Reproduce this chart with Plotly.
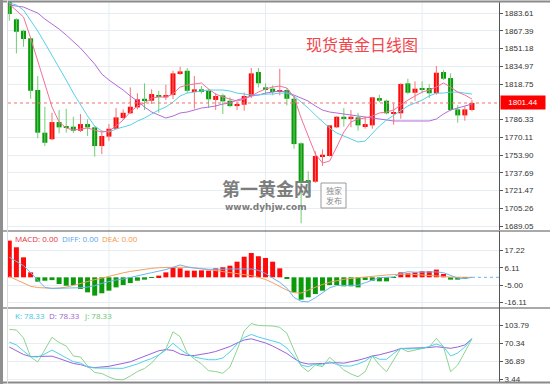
import plotly.graph_objects as go

# ---------------- data ----------------
IDX = list(range(66))
OPEN = [1895.0, 1877.9, 1867.4, 1860.5, 1813.3, 1774.3, 1768.3, 1784.0, 1780.4, 1779.8,
        1776.1, 1782.2, 1779.2, 1762.1, 1770.7, 1777.9, 1787.7, 1792.0, 1797.4, 1805.3,
        1803.5, 1808.7, 1806.6, 1808.7, 1828.5, 1830.9, 1812.1, 1813.9, 1812.6, 1804.2,
        1808.4, 1803.5, 1798.6, 1799.9, 1807.8, 1829.7, 1815.7, 1814.5, 1811.5, 1813.3,
        1805.3, 1764.6, 1731.0, 1729.5, 1752.4, 1753.0, 1779.2, 1788.9, 1787.1, 1788.3,
        1780.4, 1781.0, 1805.9, 1803.5, 1791.4, 1792.0, 1819.4, 1810.8, 1815.1, 1815.1,
        1810.3, 1829.7, 1824.2, 1795.6, 1790.1, 1795.0]
HIGH = [1898.0, 1878.8, 1868.2, 1861.2, 1826.1, 1798.0, 1792.5, 1795.0, 1796.2, 1788.9,
        1791.4, 1786.5, 1780.0, 1776.1, 1782.2, 1796.8, 1795.6, 1815.7, 1810.3, 1819.4,
        1813.9, 1812.6, 1818.1, 1830.9, 1834.6, 1833.4, 1826.1, 1816.9, 1814.5, 1810.3,
        1810.0, 1806.6, 1802.0, 1811.0, 1833.4, 1833.4, 1819.4, 1817.5, 1832.7, 1815.0,
        1807.0, 1765.5, 1739.0, 1757.3, 1759.0, 1781.0, 1789.5, 1796.8, 1795.0, 1792.5,
        1788.9, 1807.0, 1809.0, 1804.5, 1801.1, 1819.5, 1823.6, 1821.2, 1821.2, 1818.5,
        1835.2, 1831.5, 1828.5, 1799.3, 1798.5, 1804.2]
LOW = [1876.6, 1846.8, 1852.8, 1805.3, 1769.1, 1762.1, 1767.5, 1773.7, 1774.3, 1774.0,
       1774.9, 1771.3, 1752.4, 1754.8, 1767.0, 1777.5, 1785.9, 1791.5, 1795.6, 1795.0,
       1800.5, 1792.5, 1804.2, 1805.0, 1827.0, 1810.3, 1796.2, 1810.0, 1796.8, 1795.0,
       1791.4, 1797.5, 1795.0, 1794.4, 1806.0, 1815.7, 1809.0, 1808.5, 1808.4, 1799.3,
       1759.6, 1691.5, 1715.8, 1728.5, 1743.9, 1752.5, 1778.5, 1779.8, 1779.2, 1776.1,
       1778.0, 1777.9, 1802.0, 1791.0, 1781.6, 1787.1, 1809.5, 1803.5, 1810.3, 1806.0,
       1809.0, 1822.5, 1794.0, 1783.4, 1785.2, 1793.8]
CLOSE = [1882.7, 1866.5, 1859.9, 1812.6, 1774.3, 1765.1, 1784.0, 1779.2, 1779.2, 1776.1,
         1782.2, 1779.2, 1762.1, 1771.3, 1777.9, 1788.3, 1792.5, 1798.0, 1804.8, 1803.5,
         1809.6, 1807.2, 1808.7, 1828.5, 1830.3, 1812.6, 1813.9, 1811.5, 1804.8, 1807.8,
         1802.9, 1798.6, 1800.5, 1807.8, 1828.5, 1819.4, 1813.9, 1811.5, 1813.3, 1805.3,
         1763.9, 1730.1, 1728.6, 1753.0, 1754.2, 1781.0, 1788.9, 1787.1, 1788.9, 1781.0,
         1782.2, 1806.6, 1803.5, 1792.0, 1793.2, 1818.8, 1810.8, 1814.5, 1813.9, 1810.3,
         1829.1, 1823.6, 1795.0, 1790.1, 1795.6, 1801.44]

MA5 = [1891.8, 1886.3, 1880.0, 1860.8, 1839.8, 1817.8, 1797.8, 1784.1, 1778.6, 1776.7,
       1777.6, 1778.6, 1776.7, 1774.9, 1775.8, 1780.4, 1785.9, 1793.2, 1798.7, 1801.4,
       1806.0, 1806.9, 1806.9, 1809.6, 1816.0, 1817.8, 1818.8, 1819.7, 1814.2, 1809.6,
       1806.9, 1805.1, 1803.2, 1805.1, 1807.8, 1811.4, 1814.2, 1816.0, 1816.9, 1815.1,
       1806.9, 1787.7, 1771.3, 1754.8, 1746.6, 1748.4, 1761.2, 1774.9, 1784.1, 1786.8,
       1787.7, 1789.5, 1792.3, 1793.2, 1795.0, 1799.6, 1804.1, 1807.8, 1811.4, 1813.3,
       1816.0, 1819.7, 1816.0, 1811.4, 1808.7, 1805.1]
MA10 = [1892.7, 1890.9, 1886.3, 1877.2, 1867.2, 1856.2, 1845.2, 1834.3, 1822.4, 1810.5,
        1799.6, 1789.5, 1780.4, 1775.8, 1774.9, 1777.6, 1779.5, 1781.3, 1784.9, 1787.7,
        1791.4, 1795.0, 1797.8, 1802.3, 1807.8, 1810.5, 1811.4, 1812.4, 1813.3, 1813.3,
        1813.3, 1812.4, 1810.5, 1809.6, 1808.7, 1808.7, 1809.6, 1809.6, 1810.5, 1810.5,
        1807.8, 1802.3, 1796.8, 1790.4, 1784.9, 1778.6, 1774.0, 1771.3, 1768.5, 1765.8,
        1766.7, 1774.0, 1780.4, 1785.9, 1790.4, 1795.0, 1798.7, 1801.4, 1804.1, 1807.8,
        1810.5, 1810.5, 1811.4, 1811.4, 1810.5, 1809.6]
MA20 = [1890.9, 1890.0, 1889.1, 1886.3, 1883.6, 1878.1, 1873.6, 1869.0, 1863.5, 1858.0,
        1851.6, 1844.3, 1837.0, 1827.9, 1822.4, 1817.8, 1813.3, 1807.8, 1803.2, 1797.7,
        1793.2, 1790.4, 1787.7, 1789.5, 1792.3, 1793.2, 1795.0, 1796.8, 1797.7, 1798.7,
        1800.5, 1801.4, 1804.1, 1806.0, 1807.8, 1808.7, 1810.5, 1811.4, 1812.4, 1811.4,
        1808.7, 1806.0, 1803.2, 1798.7, 1795.0, 1793.2, 1792.3, 1791.4, 1790.4, 1789.5,
        1788.6, 1787.7, 1786.8, 1785.9, 1785.0, 1785.0, 1785.0, 1785.0, 1785.0, 1785.0,
        1786.8, 1791.4, 1795.0, 1796.8, 1798.7, 1800.5]

MACD = [23.7, 19.4, 12.9, 3.2, -2.8, -2.2, -1.8, -4.3, -5.4, -5.0,
        -7.5, -9.7, -11.8, -10.3, -8.6, -6.5, -5.0, -3.7, -2.2, -1.5,
        -0.4, 1.1, 3.2, 6.5, 5.8, 4.3, 4.3, 4.5, 4.3, 5.8,
        6.5, 7.5, 10.1, 13.3, 15.7, 13.6, 12.5, 10.1, 5.8, -1.1,
        -9.7, -14.4, -12.9, -10.8, -8.6, -5.0, -5.0, -5.8, -5.8, -6.5,
        -1.7, -2.2, -2.6, -2.6, -0.4, 3.2, 2.6, 3.2, 3.9, 3.9,
        5.0, 2.2, -1.5, -1.5, -0.6, 0.0]
DIFF = [13.0, 10.5, 7.5, 3.0, -2.0, -6.5, -7.2, -7.1, -7.1, -7.0,
        -6.7, -6.3, -5.4, -3.9, -2.8, -1.7, -1.1, -0.2, 0.8, 1.8,
        3.0, 4.0, 5.0, 6.5, 8.0, 6.8, 6.0, 5.4, 5.2, 5.0,
        5.2, 5.4, 5.4, 5.4, 5.4, 4.5, 2.5, -0.5, -3.2, -7.0,
        -13.0, -15.5, -15.8, -13.2, -10.0, -6.8, -5.3, -5.2, -5.4, -5.1,
        -3.5, -1.6, -0.2, 0.0, 0.3, 2.5, 3.6, 3.3, 3.4, 3.6,
        3.5, 3.0, 1.5, -0.5, -0.8, 0.0]
DEA = [0.5, -1.5, -3.8, -5.8, -6.6, -7.0, -7.1, -6.9, -6.3, -5.2,
       -3.8, -2.7, -1.5, -0.5, 0.7, 1.9, 2.9, 3.8, 4.6, 5.3,
       5.8, 6.2, 6.4, 6.5, 6.5, 6.4, 6.1, 5.7, 5.0, 4.4,
       3.8, 3.1, 2.5, 1.8, 1.1, 0.0, -1.4, -3.5, -5.8, -8.3,
       -9.9, -10.2, -8.3, -6.4, -4.6, -3.2, -2.2, -1.3, -0.7, -0.2,
       0.3, 0.8, 1.2, 1.5, 1.8, 2.1, 2.1, 1.8, 1.6, 1.3,
       1.1, 0.6, 0.1, 0.0, 0.0, 0.0]

K = [72.4, 66.9, 55.8, 45.3, 44.7, 50.2, 57.6, 50.2, 41.9, 36.0,
     33.6, 26.2, 24.4, 23.8, 23.8, 23.8, 23.8, 27.2, 31.8, 37.3,
     41.9, 48.4, 57.6, 70.0, 58.9, 50.2, 44.7, 41.9, 39.7, 39.7,
     42.9, 53.9, 68.7, 80.7, 86.3, 81.6, 77.9, 75.2, 70.6, 61.3,
     44.7, 29.9, 26.8, 31.8, 29.9, 36.0, 30.9, 28.1, 28.1, 31.8,
     37.3, 46.6, 40.5, 40.5, 51.2, 60.8, 59.5, 59.5, 60.8, 64.1,
     68.7, 63.7, 46.6, 52.1, 63.2, 78.33]
D = [63.2, 55.8, 49.3, 45.6, 45.6, 46.2, 46.2, 41.9, 36.7, 32.7,
     30.7, 26.6, 25.1, 26.0, 27.5, 30.3, 33.4, 35.8, 41.0, 46.2,
     51.2, 56.2, 58.4, 56.7, 50.2, 47.5, 47.5, 49.3, 51.9, 54.9,
     59.5, 64.1, 70.6, 76.1, 78.3, 74.3, 70.6, 65.0, 58.6, 51.2,
     41.9, 34.5, 31.8, 31.8, 32.7, 33.6, 34.2, 33.3, 35.5, 38.8,
     42.3, 46.6, 48.8, 51.7, 55.8, 60.4, 60.8, 60.8, 61.3, 62.2,
     63.7, 62.8, 60.8, 63.2, 66.9, 78.33]
J = [95.8, 94.5, 79.8, 44.7, 35.5, 57.6, 81.1, 71.5, 65.0, 46.6,
     44.7, 28.1, 16.1, 14.2, 7.8, 3.2, 2.6, 9.6, 17.9, 23.5,
     33.6, 48.4, 59.5, 91.4, 82.2, 52.1, 41.0, 31.8, 19.4, 17.9,
     14.6, 26.2, 57.6, 92.7, 106.6, 102.9, 101.9, 101.9, 99.5, 88.5,
     57.6, 28.1, 17.6, 29.9, 26.8, 44.1, 33.1, 20.7, 13.3, 8.3,
     17.6, 46.6, 29.9, 17.6, 39.2, 60.8, 54.5, 57.6, 59.5, 63.2,
     79.2, 63.7, 17.6, 29.9, 53.9, 78.33]

PRICE_TICKS = [1883.61, 1867.39, 1851.18, 1834.97, 1818.75, 1786.33, 1770.11,
               1753.90, 1737.69, 1721.47, 1705.26, 1689.05]
MACD_TICKS = [17.22, 6.11, -5.00, -16.11]
KDJ_TICKS = [103.79, 70.34, 36.89, 3.44]
MONTH_GRID = [14, 36, 58]
LAST_PRICE = 1801.44
TITLE = "现货黄金日线图"

# ---------------- layout helpers ----------------
W, H = 550, 384
ML, MR = 8, 51
PW = W - ML - MR


def px(x):
    return (x - ML) / PW


def py(y):
    return (H - y) / H


UP, DOWN = "#ff0a0a", "#0a9a0a"
UP_W, DOWN_W = "#f47474", "#6fcf6f"

fig = go.Figure()

# wicks
for up, col in ((True, UP_W), (False, DOWN_W)):
    xs, ys = [], []
    for i in IDX:
        if (CLOSE[i] >= OPEN[i]) == up:
            xs += [i, i, None]
            ys += [LOW[i], HIGH[i], None]
    fig.add_trace(go.Scatter(x=xs, y=ys, mode="lines", line=dict(color=col, width=1),
                             hoverinfo="skip", showlegend=False, xaxis="x", yaxis="y"))

# bodies
for up, col in ((True, UP), (False, DOWN)):
    xs, base, hgt = [], [], []
    for i in IDX:
        if (CLOSE[i] >= OPEN[i]) == up:
            xs.append(i)
            base.append(min(OPEN[i], CLOSE[i]))
            hgt.append(max(abs(CLOSE[i] - OPEN[i]), 1.0))
    fig.add_trace(go.Bar(x=xs, y=hgt, base=base, width=0.7, marker_color=col,
                         marker_line_width=0, showlegend=False, xaxis="x", yaxis="y"))

for arr, col in ((MA20, "#b36ad8"), (MA10, "#58d0e8"), (MA5, "#f2709a")):
    fig.add_trace(go.Scatter(x=IDX, y=arr, mode="lines", line=dict(color=col, width=1),
                             showlegend=False, xaxis="x", yaxis="y"))

# MACD
fig.add_trace(go.Bar(x=IDX, y=MACD, width=0.7,
                     marker_color=[UP if v >= 0 else DOWN for v in MACD],
                     marker_line_width=0, showlegend=False, xaxis="x", yaxis="y2"))
fig.add_trace(go.Scatter(x=IDX, y=DEA, mode="lines", line=dict(color="#f5a062", width=1),
                         showlegend=False, xaxis="x", yaxis="y2"))
fig.add_trace(go.Scatter(x=IDX, y=DIFF, mode="lines", line=dict(color="#6cb4f2", width=1),
                         showlegend=False, xaxis="x", yaxis="y2"))
fig.add_trace(go.Scatter(x=[IDX[-1], 68.8], y=[DIFF[-1], DIFF[-1]], mode="lines",
                         line=dict(color="#6cb4f2", width=1, dash="dot"),
                         showlegend=False, xaxis="x", yaxis="y2"))

# KDJ
for arr, col in ((J, "#8ed48e"), (D, "#9a62d8"), (K, "#4fd2e8")):
    fig.add_trace(go.Scatter(x=IDX, y=arr, mode="lines", line=dict(color=col, width=1),
                             showlegend=False, xaxis="x", yaxis="y3"))

GRID = "#e6edf3"
AX = dict(side="right", anchor="x", showline=True, linecolor="#555", linewidth=1,
          ticks="outside", ticklen=3, tickcolor="#555", gridcolor=GRID, gridwidth=1,
          zeroline=False, tickfont=dict(family="Liberation Sans", size=8, color="#333"),
          fixedrange=True, ticklabeloverflow="allow")

fig.update_layout(
    width=W, height=H, margin=dict(l=ML, r=MR, t=0, b=0),
    paper_bgcolor="white", plot_bgcolor="white", barmode="overlay",
    xaxis=dict(range=[-0.18, 68.8], visible=False, fixedrange=True),
    yaxis=dict(AX, domain=[py(230), py(2)], range=[1685.4, 1893.7],
               tickvals=PRICE_TICKS, ticktext=["%.2f" % v for v in PRICE_TICKS]),
    yaxis2=dict(AX, domain=[py(308), py(231)], range=[-19.8, 29.9],
                tickvals=MACD_TICKS, ticktext=["%.2f" % v for v in MACD_TICKS]),
    yaxis3=dict(AX, domain=[py(383), py(308)], range=[-3.3, 135.2],
                tickvals=KDJ_TICKS, ticktext=["%.2f" % v for v in KDJ_TICKS]),
)

shapes = []
for g in MONTH_GRID:
    shapes.append(dict(type="line", xref="x", yref="paper", x0=g, x1=g, y0=py(383), y1=py(2),
                       line=dict(color=GRID, width=1), layer="below"))
# last price dotted line
shapes.append(dict(type="line", xref="paper", yref="y", x0=0, x1=1, y0=LAST_PRICE, y1=LAST_PRICE,
                   line=dict(color="#f07070", width=1, dash="dot")))
# frame / separators
for yy, col, wd in ((1.5, "#8a8a8a", 2), (231, "#555", 1), (308, "#555", 1), (382.5, "#8a8a8a", 2)):
    shapes.append(dict(type="line", xref="paper", yref="paper", x0=px(0), x1=px(W),
                       y0=py(yy), y1=py(yy), line=dict(color=col, width=wd)))
shapes.append(dict(type="rect", xref="paper", yref="paper", x0=px(0), x1=px(3), y0=0, y1=1,
                   fillcolor="#8f8f8f", line=dict(width=0)))
shapes.append(dict(type="line", xref="paper", yref="paper", x0=px(7.5), x1=px(7.5), y0=0, y1=1,
                   line=dict(color="#dcdcdc", width=1)))
# watermark badge box
shapes.append(dict(type="rect", xref="paper", yref="paper", x0=px(321), x1=px(346),
                   y0=py(208), y1=py(183), line=dict(color="#9a9a9a", width=1),
                   fillcolor="rgba(255,255,255,0.6)"))
fig.update_layout(shapes=shapes)


def note(x, y, text, size, color, family="Open Sans", xa="center", ya="middle", **kw):
    return dict(xref="paper", yref="paper", x=px(x), y=py(y), xanchor=xa, yanchor=ya,
                text=text, showarrow=False, font=dict(family=family, size=size, color=color), **kw)


ann = []
# last price label
ann.append(dict(xref="paper", yref="y", x=1, y=LAST_PRICE, xanchor="left", yanchor="middle",
                text="%.2f" % LAST_PRICE, showarrow=False, bgcolor="#ff0000",
                font=dict(family="Liberation Sans", size=8, color="white"),
                borderpad=2, width=40, xshift=1))
# title
ann.append(note(362, 44, TITLE, 16, "#f0464c", family="Noto Sans CJK SC"))
# watermark
ann.append(note(267, 187.5, "<b>第一黄金网</b>", 18, "#7d7d7d", family="Noto Sans CJK SC",
                height=20, valign="middle"))
ann.append(note(266, 206.5, "<b>www.dyhjw.com</b>", 9, "#7d7d7d", family="DejaVu Sans",
                height=11, valign="middle"))
ann.append(note(333.5, 195.5, "独家<br>发布", 8, "#8a8a8a", family="Noto Sans CJK SC"))
# panel legends
for txt, x, col in (("MACD: 0.00", 13, "#e8333a"), ("DIFF: 0.00", 60, "#5aa5f0"),
                    ("DEA: 0.00", 100, "#f5964a")):
    ann.append(note(x, 238.5, txt, 8, col, xa="left"))
for txt, x, col in (("K: 78.33", 13, "#40c4e0"), ("D: 78.33", 47, "#9a5fd0"),
                    ("J: 78.33", 82, "#6cbf6c")):
    ann.append(note(x, 315, txt, 8, col, xa="left"))
fig.update_layout(annotations=ann)

fig.write_html("out.html")
